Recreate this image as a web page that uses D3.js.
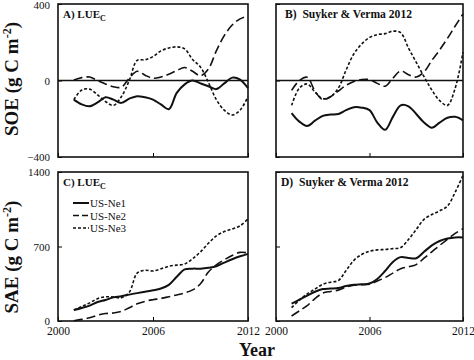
<!DOCTYPE html>
<html><head><meta charset="utf-8">
<script src="https://cdn.jsdelivr.net/npm/d3@7"></script>
<style>
body{margin:0;background:#fff;}
svg{display:block;}
text{font-family:"Liberation Serif","Times New Roman",serif;fill:#111;}
</style></head>
<body><svg id="c" width="474" height="360"></svg>
<script>
const years = [2001,2001.5,2002,2002.5,2003,2003.5,2004,2004.5,2005,2005.5,2006,2006.5,2007,2007.5,2008,2008.5,2009,2009.5,2010,2010.5,2011,2011.5,2012];
const seriesNames = ["US-Ne1","US-Ne2","US-Ne3"];
// Panel A: SOE, LUEc
const soeLue_Ne1 = [-100,-125,-135,-115,-88,-100,-117,-95,-82,-88,-100,-125,-150,-65,-20,0,-15,-30,-45,-15,15,5,-40];
const soeLue_Ne2 = [2,15,18,0,-18,-33,-35,12,48,28,12,18,33,52,68,48,25,60,155,235,290,322,337];
const soeLue_Ne3 = [-100,-50,-45,-75,-110,-130,-85,0,105,108,125,155,170,176,165,110,70,-10,-100,-155,-180,-155,-85];
// Panel B: SOE, Suyker & Verma 2012
const soeSV_Ne1 = [-170,-215,-238,-210,-185,-178,-175,-155,-140,-142,-155,-220,-258,-190,-130,-135,-175,-220,-247,-220,-195,-190,-208];
const soeSV_Ne2 = [-52,0,17,-55,-100,-85,-55,-25,-5,5,5,-15,-30,12,50,30,18,45,105,160,220,285,348];
const soeSV_Ne3 = [-130,-40,-18,-60,-95,-85,-40,55,140,191,225,240,245,258,250,170,95,20,-50,-105,-130,-40,148];
// Panel C: SAE, LUEc
const saeLue_Ne1 = [103,122,145,178,198,222,232,248,262,275,288,305,340,415,485,492,492,500,515,548,580,608,631];
const saeLue_Ne2 = [3,15,30,55,70,75,90,125,162,185,200,212,228,245,264,292,350,460,528,575,616,645,640];
const saeLue_Ne3 = [103,135,170,210,227,225,218,270,450,476,470,490,515,525,535,585,650,730,800,840,865,895,958];
// Panel D: SAE, Suyker & Verma 2012
const saeSV_Ne1 = [163,200,238,275,300,305,310,328,340,345,352,395,470,555,600,592,590,650,710,752,775,785,785];
const saeSV_Ne2 = [47,95,145,210,262,278,290,318,337,340,345,375,408,450,492,510,530,590,650,710,768,823,868];
const saeSV_Ne3 = [126,195,255,300,345,365,380,475,570,625,655,668,672,680,690,765,860,955,1000,1035,1080,1210,1370];

const xTicks = [2000,2006,2012];
const soeTicks = [-400,0,400];
const saeTicks = [0,700,1400];

const svg = d3.select("#c");
const styles = [
  {dash:null, w:2},
  {dash:"9,4", w:1.6},
  {dash:"3,2", w:1.6}
];
const cols = [{l:58,r:248},{l:276,r:463}];
const rows = [{t:4,b:157,dom:[-400,400],ticks:soeTicks},{t:172,b:321,dom:[0,1400],ticks:saeTicks}];
const panels = [
  {c:0,r:0,label:"A) LUE",sub:"C",lx:5,fs:11,data:[soeLue_Ne1,soeLue_Ne2,soeLue_Ne3]},
  {c:1,r:0,label:"B)\u00a0\u00a0Suyker & Verma 2012",lx:9,fs:11.6,data:[soeSV_Ne1,soeSV_Ne2,soeSV_Ne3]},
  {c:0,r:1,label:"C) LUE",sub:"C",lx:5,fs:11,data:[saeLue_Ne1,saeLue_Ne2,saeLue_Ne3],legend:true},
  {c:1,r:1,label:"D)\u00a0\u00a0Suyker & Verma 2012",lx:5,fs:11.6,data:[saeSV_Ne1,saeSV_Ne2,saeSV_Ne3]}
];

panels.forEach(p=>{
  const C = cols[p.c], R = rows[p.r];
  const x = d3.scaleLinear().domain([2000,2012]).range([C.l,C.r]);
  const y = d3.scaleLinear().domain(R.dom).range([R.b,R.t]);
  const g = svg.append("g");
  const ya = d3.axisLeft(y).tickValues(R.ticks).tickSize(-4).tickPadding(8)
     .tickFormat(p.c===0? d3.format("d") : ()=>"");
  const yg = g.append("g").attr("transform",`translate(${C.l},0)`).call(ya);
  yg.select(".domain").remove();
  yg.selectAll("text").style("font-size","11px").style("font-family","Liberation Serif").attr("fill","#222");
  yg.selectAll(".tick").filter(d=>d===400).select("text").attr("dy","0.45em");
  const xa = d3.axisBottom(x).tickValues(xTicks).tickSize(-4).tickPadding(6)
     .tickFormat(p.r===1? d3.format("d") : ()=>"");
  const xg = g.append("g").attr("transform",`translate(0,${R.b})`).call(xa);
  xg.select(".domain").remove();
  xg.selectAll("text").style("font-size","11.5px").style("font-family","Liberation Serif").attr("fill","#222");
  if(p.r===0){
    g.append("line").attr("x1",C.l).attr("x2",C.r).attr("y1",y(0)).attr("y2",y(0))
      .attr("stroke","#111").attr("stroke-width",1.6);
  }
  const line = d3.line().x((d,i)=>x(years[i])).y(d=>y(d)).curve(d3.curveCatmullRom.alpha(0.5));
  p.data.forEach((s,i)=>{
    g.append("path").attr("d",line(s)).attr("fill","none").attr("stroke","#111")
      .attr("stroke-width",styles[i].w).attr("stroke-dasharray",styles[i].dash);
  });
  g.append("rect").attr("x",C.l).attr("y",R.t).attr("width",C.r-C.l).attr("height",R.b-R.t)
    .attr("fill","none").attr("stroke","#111").attr("stroke-width",1.6);
  const t = g.append("text").attr("x",C.l+p.lx).attr("y",R.t+14)
    .style("font-size",p.fs+"px").style("font-weight","bold").text(p.label);
  if(p.sub) t.append("tspan").attr("dy",3).style("font-size","8px").text(p.sub);
  if(p.legend){
    seriesNames.forEach((n,i)=>{
      const ly = 203 + i*12.5;
      g.append("line").attr("x1",73).attr("x2",89).attr("y1",ly).attr("y2",ly)
        .attr("stroke","#111").attr("stroke-width",styles[i].w)
        .attr("stroke-dasharray", i===1?"6,3":styles[i].dash);
      g.append("text").attr("x",90).attr("y",ly+4).style("font-size","11px").text(n);
    });
  }
});

function ylab(txt, cy){
  const t = svg.append("text").attr("transform",`translate(18,${cy}) rotate(-90)`)
    .attr("text-anchor","middle").style("font-size","19px").style("font-weight","bold");
  t.append("tspan").text(txt+" (g C m");
  t.append("tspan").attr("dy",-7).style("font-size","12px").text("-2");
  t.append("tspan").attr("dy",7).text(")");
}
ylab("SOE",79);
ylab("SAE",257);
svg.append("text").attr("x",257).attr("y",356).attr("text-anchor","middle")
  .style("font-size","18px").style("font-weight","bold").text("Year");
</script></body></html>
